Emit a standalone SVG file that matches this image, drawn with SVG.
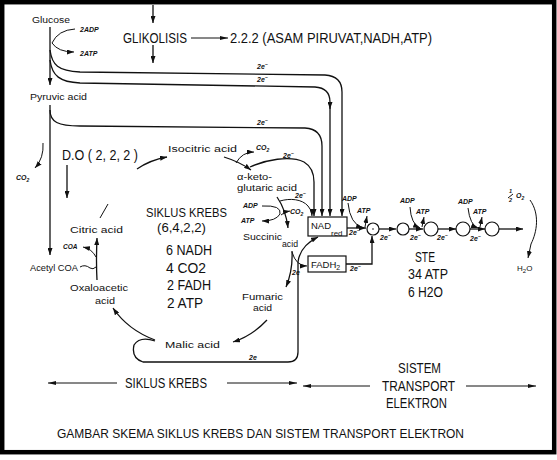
<svg xmlns="http://www.w3.org/2000/svg" width="557" height="460" viewBox="0 0 557 460">
<style>
.m{font-family:"Liberation Sans",Arial,sans-serif;font-size:14px;fill:#111}
.s{font-family:"Liberation Sans",Arial,sans-serif;font-size:8.5px;fill:#111}
.i{font-family:"Liberation Sans",Arial,sans-serif;font-size:7px;font-style:italic;font-weight:bold;fill:#111}
.l{fill:none;stroke:#111;stroke-width:1.3}
.t{fill:none;stroke:#111;stroke-width:1}
.b{fill:#fff;stroke:#111;stroke-width:1.2}
</style>
<defs>
<marker id="a" markerUnits="userSpaceOnUse" markerWidth="7" markerHeight="5" refX="7" refY="2.5" orient="auto"><path d="M0,0 L7,2.5 L0,5 z" fill="#111"/></marker>
<marker id="k" markerUnits="userSpaceOnUse" markerWidth="8" markerHeight="4" refX="8" refY="2" orient="auto"><path d="M0,0 L8,2 L0,4 z" fill="#111"/></marker>
</defs>
<rect x="0" y="0" width="557" height="460" fill="#fff"/>
<rect x="2.2" y="2.2" width="552" height="450" fill="none" stroke="#000" stroke-width="4.5"/>

<g id="connectors">
<path class="l" d="M50,27 L50,85" marker-end="url(#a)"/>
<path class="t" d="M52,43 Q58,30 75,29"/>
<path class="t" d="M52,43 Q58,52 74,52" marker-end="url(#a)"/>
<path class="l" d="M50,50 C52,65 58,71 80,72 L325,75 Q342,76 342,92 L342,216" marker-end="url(#a)"/>
<path class="l" d="M50,60 C52,76 60,82 80,83 L315,87 Q330,88 330,102 L330,216" marker-end="url(#a)"/>
<path class="t" d="M330,103 L330,109" marker-end="url(#a)"/>
<path class="l" d="M50,105 L50,255" marker-end="url(#a)"/>
<path class="l" d="M50,110 C50,122 58,126 80,126 L305,128 Q322,129 322,146 L322,216" marker-end="url(#a)"/>
<path class="l" d="M250,167 C265,160 290,155 304,162 Q314,168 314,182 L314,216" marker-end="url(#a)"/>
<path class="t" d="M43,143 Q44,158 35,168" marker-end="url(#a)"/>
<path class="l" d="M153,5 L153,23" marker-end="url(#a)"/>
<path class="l" d="M153,45 L153,63" marker-end="url(#a)"/>
<path class="t" d="M191,38 L228,38" marker-end="url(#k)"/>
<path class="l" d="M67,165 L67,198" marker-end="url(#a)"/>
<path class="l" d="M137,169 Q150,160 167,157" marker-end="url(#a)"/>
<path class="l" d="M224,157 Q240,162 251,170" marker-end="url(#a)"/>
<path class="t" d="M236,163 Q242,152 254,152" marker-end="url(#a)"/>
<path class="l" d="M277,197 Q286,210 288,228" marker-end="url(#a)"/>
<path class="t" d="M262,206 Q282,205 280,214 Q276,221 262,221" marker-end="url(#a)"/>
<path class="t" d="M281,215 Q284,212 290,211" marker-end="url(#a)"/>
<path class="t" d="M280,201 C290,198 302,199 308,206 Q312,210 312,216" marker-end="url(#a)"/>
<path class="l" d="M292,251 Q293,270 286,287" marker-end="url(#a)"/>
<path class="t" d="M292,252 Q296,266 307,266" marker-end="url(#a)"/>
<path class="l" d="M267,320 Q252,336 233,342" marker-end="url(#a)"/>
<path class="l" d="M155,340 Q128,330 113,308" marker-end="url(#a)"/>
<path class="l" d="M155,341 Q140,336 134,345 Q131,358 143,362 L288,362 Q298,362 298,352 L298,262 Q300,246 318,237" marker-end="url(#a)"/>
<path class="l" d="M97,280 Q96,262 97,238" marker-end="url(#a)"/>
<path class="t" d="M80,267 Q85,264 90,268 Q93,270 96,267"/>
<path class="t" d="M96,257 Q92,249 83,247" marker-end="url(#a)"/>
<path class="t" d="M100,218 L108,204"/>
<path class="l" d="M347,228 L366,228" marker-end="url(#a)"/>
<path class="l" d="M379,229 L396,229" marker-end="url(#a)"/>
<path class="l" d="M409,229 L423,229" marker-end="url(#a)"/>
<path class="l" d="M438,229 L456,229" marker-end="url(#a)"/>
<path class="l" d="M470,229 L485,229" marker-end="url(#a)"/>
<path class="l" d="M499,229 L523,229" marker-end="url(#a)"/>
<path class="l" d="M346,264 L372,264 L372,236" marker-end="url(#a)"/>
<path class="t" d="M348,203 Q350,224 363,228" marker-end="url(#a)"/>
<path class="t" d="M365,227 L367,216" marker-end="url(#a)"/>
<path class="t" d="M410,207 Q411,224 420,228" marker-end="url(#a)"/>
<path class="t" d="M422,227 L424,217" marker-end="url(#a)"/>
<path class="t" d="M468,208 Q470,225 478,228" marker-end="url(#a)"/>
<path class="t" d="M480,227 L482,217" marker-end="url(#a)"/>
<path class="t" d="M530,200 C540,214 537,232 531,244 L528,258" marker-end="url(#a)"/>
<path class="t" d="M117,383 L48,383" marker-end="url(#k)"/>
<path class="t" d="M227,383 L297,383" marker-end="url(#k)"/>
<path class="t" d="M370,386 L303,386" marker-end="url(#k)"/>
<path class="t" d="M466,386 L536,386" marker-end="url(#k)"/>
</g>

<g id="glucose"><text class="s" x="32" y="23" textLength="38" lengthAdjust="spacingAndGlyphs">Glucose</text></g>
<g id="adp-atp-1"><text class="i" x="80" y="32">2ADP</text><text class="i" x="80" y="56">2ATP</text></g>
<g id="glikolisis"><text class="m" x="123" y="43" textLength="64" lengthAdjust="spacingAndGlyphs">GLIKOLISIS</text></g>
<g id="hasil-glikolisis"><text class="m" x="230" y="43" textLength="202" lengthAdjust="spacingAndGlyphs">2.2.2 (ASAM PIRUVAT,NADH,ATP)</text></g>
<g id="pyruvic"><text class="s" x="30" y="100" textLength="57" lengthAdjust="spacingAndGlyphs">Pyruvic acid</text></g>
<g id="co2-left"><text class="i" x="16" y="180">CO<tspan font-size="5" dy="2">2</tspan></text></g>
<g id="do"><text class="m" x="62" y="160" style="font-size:15px" textLength="76" lengthAdjust="spacingAndGlyphs">D.O ( 2, 2, 2 )</text></g>
<g id="isocitric"><text class="s" x="168" y="152" textLength="69" lengthAdjust="spacingAndGlyphs">Isocitric acid</text></g>
<g id="co2-iso"><text class="i" x="256" y="150">CO<tspan font-size="5" dy="2">2</tspan></text></g>
<g id="akg"><text class="s" x="237" y="180" textLength="35" lengthAdjust="spacingAndGlyphs">α-keto-</text><text class="s" x="237" y="191" textLength="60" lengthAdjust="spacingAndGlyphs">glutaric acid</text></g>
<g id="adp-atp-2"><text class="i" x="243" y="208">ADP</text><text class="i" x="241" y="223">ATP</text><text class="i" x="290" y="214">CO<tspan font-size="5" dy="2">2</tspan></text></g>
<g id="succinic"><text class="s" x="243" y="240" textLength="39" lengthAdjust="spacingAndGlyphs">Succinic</text><text class="s" x="282" y="247" textLength="16" lengthAdjust="spacingAndGlyphs">acid</text></g>
<g id="fumaric"><text class="s" x="242" y="300" textLength="41" lengthAdjust="spacingAndGlyphs">Fumaric</text><text class="s" x="253" y="311" textLength="19" lengthAdjust="spacingAndGlyphs">acid</text></g>
<g id="malic"><text class="s" x="165" y="348" textLength="55" lengthAdjust="spacingAndGlyphs">Malic acid</text></g>
<g id="oxaloacetic"><text class="s" x="70" y="291" textLength="58" lengthAdjust="spacingAndGlyphs">Oxaloacetic</text><text class="s" x="95" y="304" textLength="20" lengthAdjust="spacingAndGlyphs">acid</text></g>
<g id="citric"><text class="s" x="70" y="233" textLength="53" lengthAdjust="spacingAndGlyphs">Citric acid</text></g>
<g id="coa"><text class="i" x="63" y="249" style="font-size:6.5px">COA</text></g>
<g id="acetyl"><text class="s" x="30" y="271" textLength="48" lengthAdjust="spacingAndGlyphs">Acetyl COA</text></g>
<g id="siklus-krebs"><text class="m" x="146" y="217" style="font-size:12.5px" textLength="81" lengthAdjust="spacingAndGlyphs">SIKLUS KREBS</text><text class="m" x="157" y="232" style="font-size:13px" textLength="49" lengthAdjust="spacingAndGlyphs">(6,4,2,2)</text></g>
<g id="hasil-krebs">
<text class="m" x="166" y="255" textLength="46" lengthAdjust="spacingAndGlyphs">6 NADH</text>
<text class="m" x="166" y="273" textLength="40" lengthAdjust="spacingAndGlyphs">4 CO2</text>
<text class="m" x="167" y="290" textLength="44" lengthAdjust="spacingAndGlyphs">2 FADH</text>
<text class="m" x="167" y="308" textLength="36" lengthAdjust="spacingAndGlyphs">2 ATP</text>
</g>
<g id="e-labels">
<text class="i" x="257" y="69">2e<tspan font-size="5" dy="-3">−</tspan></text>
<text class="i" x="257" y="82">2e<tspan font-size="5" dy="-3">−</tspan></text>
<text class="i" x="257" y="125">2e<tspan font-size="5" dy="-3">−</tspan></text>
<text class="i" x="283" y="158">2e<tspan font-size="5" dy="-3">−</tspan></text>
<text class="i" x="295" y="198">2e<tspan font-size="5" dy="-3">−</tspan></text>
<text class="i" x="292" y="275">2e</text>
<text class="i" x="249" y="360">2e</text>
<text class="i" x="349" y="235">2e<tspan font-size="5" dy="-3">−</tspan></text>
<text class="i" x="380" y="240">2e<tspan font-size="5" dy="-3">−</tspan></text>
<text class="i" x="410" y="240">2e<tspan font-size="5" dy="-3">−</tspan></text>
<text class="i" x="437" y="240">2e<tspan font-size="5" dy="-3">−</tspan></text>
<text class="i" x="470" y="241">2e<tspan font-size="5" dy="-3">−</tspan></text>
<text class="i" x="350" y="271">2e<tspan font-size="5" dy="-3">−</tspan></text>
</g>
<g id="nad"><rect class="b" x="308" y="217" width="39" height="19"/><text class="s" x="311" y="229" style="font-size:9.5px">NAD</text><text class="s" x="331" y="236" style="font-size:8px">red</text></g>
<g id="fadh2"><rect class="b" x="308" y="256" width="38" height="16"/><text class="s" x="311" y="268" style="font-size:9.5px">FADH<tspan font-size="7" dy="2">2</tspan></text></g>
<g id="carrier-1"><circle class="b" cx="373" cy="229" r="6"/><circle cx="373" cy="229" r="0.8" fill="#111"/></g>
<g id="carrier-2"><circle class="b" cx="403" cy="229" r="6"/></g>
<g id="carrier-3"><circle class="b" cx="431" cy="229" r="7"/></g>
<g id="carrier-4"><circle class="b" cx="463" cy="229" r="7"/></g>
<g id="carrier-5"><circle class="b" cx="492" cy="229" r="7"/></g>
<g id="adp-atp-chain">
<text class="i" x="342" y="201">ADP</text><text class="i" x="357" y="213">ATP</text>
<text class="i" x="400" y="203">ADP</text><text class="i" x="416" y="214">ATP</text>
<text class="i" x="458" y="204">ADP</text><text class="i" x="473" y="214">ATP</text>
</g>
<g id="oxygen"><text class="i" x="509" y="193" style="font-size:5.5px">1</text><path class="t" d="M513,194 L508,198"/><text class="i" x="509" y="202" style="font-size:5.5px">2</text><text class="i" x="516" y="198">O<tspan font-size="5" dy="2">2</tspan></text></g>
<g id="water"><text class="s" x="517" y="271" style="font-size:8px">H<tspan font-size="6" dy="2">2</tspan><tspan dy="-2">O</tspan></text></g>
<g id="ste"><text class="m" x="415" y="262" textLength="20" lengthAdjust="spacingAndGlyphs">STE</text><text class="m" x="408" y="279" textLength="40" lengthAdjust="spacingAndGlyphs">34 ATP</text><text class="m" x="408" y="297" textLength="35" lengthAdjust="spacingAndGlyphs">6 H2O</text></g>
<g id="label-krebs"><text class="m" x="125" y="388" textLength="82" lengthAdjust="spacingAndGlyphs">SIKLUS KREBS</text></g>
<g id="label-ste"><text class="m" x="398" y="373" textLength="43" lengthAdjust="spacingAndGlyphs">SISTEM</text><text class="m" x="382" y="391" textLength="73" lengthAdjust="spacingAndGlyphs">TRANSPORT</text><text class="m" x="386" y="408" textLength="61" lengthAdjust="spacingAndGlyphs">ELEKTRON</text></g>
<g id="caption"><text class="m" x="57" y="438" style="font-size:13.5px" textLength="407" lengthAdjust="spacingAndGlyphs">GAMBAR SKEMA SIKLUS KREBS DAN SISTEM TRANSPORT ELEKTRON</text></g>
</svg>
